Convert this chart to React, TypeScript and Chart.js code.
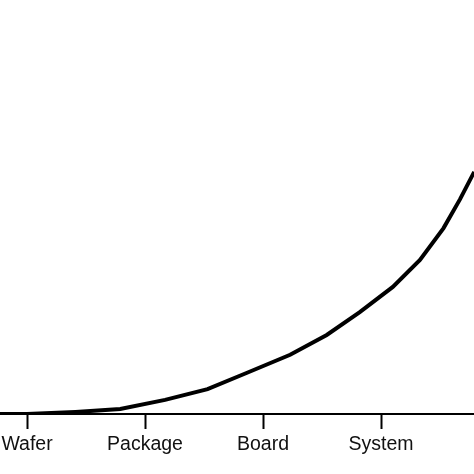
import React, { useEffect, useRef } from "react";
import { Chart, registerables } from "chart.js";

Chart.register(...registerables);

const stageLabels = ["Wafer", "Package", "Board", "System"];
const stageTicks = [0, 1, 2, 3];
const curveX = [-0.23, 0, 0.41, 0.79, 1.17, 1.53, 1.86, 2.23, 2.54, 2.82, 3.1, 3.33, 3.53, 3.67, 3.79, 3.92];
const curveY = [0, 0, 0.5, 1.2, 3.4, 6.0, 9.9, 14.3, 19.1, 24.6, 30.7, 37.2, 44.9, 51.9, 58.5, 66.2];

export default function App() {
  const ref = useRef<HTMLCanvasElement | null>(null);
  useEffect(() => {
    document.body.style.margin = "0";
    const canvas = ref.current;
    if (!canvas) return;
    const points = curveX.map((x, i) => ({ x, y: curveY[i] }));
    const chart = new Chart(canvas, {
      type: "line",
      data: {
        datasets: [
          {
            data: points,
            borderColor: "#000",
            borderWidth: 4,
            pointRadius: 0,
            tension: 0,
            fill: false,
          },
        ],
      },
      options: {
        animation: false,
        responsive: false,
        maintainAspectRatio: false,
        layout: { padding: 0 },
        plugins: { legend: { display: false }, tooltip: { enabled: false } },
        scales: {
          x: {
            type: "linear",
            position: "bottom",
            min: -0.229,
            max: 3.788,
            afterBuildTicks: (scale: any) => {
              scale.ticks = stageTicks.map((v) => ({ value: v }));
            },
            afterFit: (scale: any) => {
              scale.height = 60;
              scale.paddingLeft = 0;
              scale.paddingRight = 0;
            },
            border: { display: true, color: "#000", width: 2 },
            grid: {
              display: true,
              drawOnChartArea: false,
              drawTicks: true,
              tickLength: 15,
              tickWidth: 2,
              tickColor: "#000",
              color: "#000",
            },
            ticks: {
              autoSkip: false,
              maxRotation: 0,
              padding: 4,
              color: "#111",
              font: { family: "'Liberation Sans', Arial, sans-serif", size: 19.5 },
              callback: (v: any) => {
                const i = stageTicks.indexOf(Number(v));
                return i >= 0 ? stageLabels[i] : "";
              },
            },
          },
          y: {
            type: "linear",
            display: false,
            min: 0,
            max: 100,
          },
        },
      },
    });
    return () => chart.destroy();
  }, []);
  return <canvas ref={ref} width={474} height={474} style={{ display: "block" }} />;
}
